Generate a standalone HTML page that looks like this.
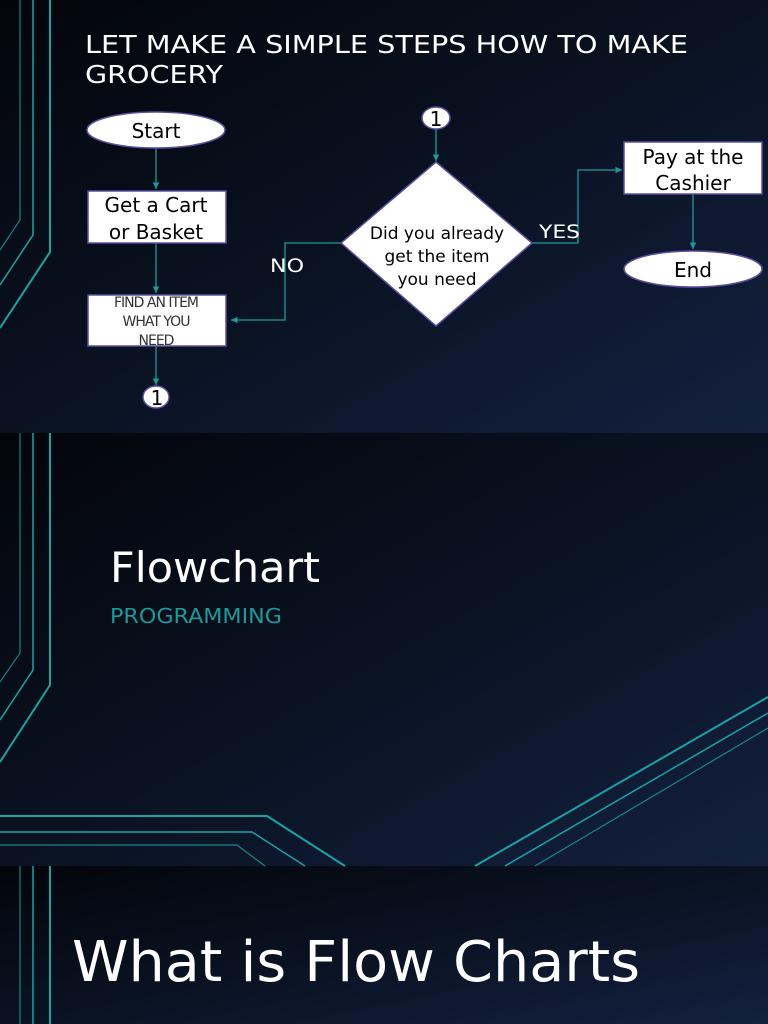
<!DOCTYPE html>
<html><head><meta charset="utf-8"><style>
html,body{margin:0;padding:0;background:#000;}
body{width:768px;height:1024px;overflow:hidden;position:relative;font-family:"DejaVu Sans","Liberation Sans",sans-serif;}
svg{position:absolute;left:0;top:0;}
</style></head><body>
<svg width="768" height="1024" viewBox="0 0 768 1024" xmlns="http://www.w3.org/2000/svg">
<defs>
<linearGradient id="bg" x1="0" y1="0" x2="1" y2="1">
<stop offset="0" stop-color="#03050a"/><stop offset="0.5" stop-color="#0a1222"/><stop offset="1" stop-color="#13203f"/>
</linearGradient>
<marker id="ah" markerWidth="6" markerHeight="6" refX="5" refY="3" orient="auto"><path d="M0,0.5 L5,3 L0,5.5z" fill="#1a9a9a"/></marker>
</defs>
<rect x="0" y="0" width="768" height="433" fill="url(#bg)"/>
<rect x="0" y="433" width="768" height="433" fill="url(#bg)"/>
<rect x="0" y="866" width="768" height="158" fill="url(#bg)"/>
<g stroke="#1aa3a3" stroke-width="2" fill="none">
<polyline points="20,0 20,220 0,250" stroke-width="1.2" opacity="0.8"/>
<polyline points="33,0 33,235 0,285" stroke-width="1.5"/>
<polyline points="50,0 50,252 0,328"/>
<polyline points="20,433 20,653 0,682" stroke-width="1.2" opacity="0.8"/>
<polyline points="33,433 33,670 0,720" stroke-width="1.5"/>
<polyline points="50,433 50,685 0,762"/>
<polyline points="0,816 267,816 345,866"/>
<polyline points="0,832 252,832 305,866" stroke-width="1.5"/>
<polyline points="0,845 237,845 265,866" stroke-width="1.2" opacity="0.8"/>
<line x1="768" y1="697" x2="475" y2="866"/>
<line x1="768" y1="713" x2="505" y2="866" stroke-width="1.5"/>
<line x1="768" y1="728" x2="535" y2="866" stroke-width="1.2" opacity="0.8"/>
<line x1="20" y1="866" x2="20" y2="1024" stroke-width="1.2" opacity="0.8"/>
<line x1="33" y1="866" x2="33" y2="1024" stroke-width="1.5"/>
<line x1="50" y1="866" x2="50" y2="1024"/>
</g>
<text x="85" y="53" fill="#fff" font-size="25" textLength="603" lengthAdjust="spacingAndGlyphs">LET MAKE A SIMPLE STEPS HOW TO MAKE</text>
<text x="85" y="83" fill="#fff" font-size="25" textLength="138" lengthAdjust="spacingAndGlyphs">GROCERY</text>
<g stroke="#1a9a9a" stroke-width="1.3" fill="none">
<line x1="156" y1="148" x2="156" y2="189" marker-end="url(#ah)"/>
<line x1="156" y1="243" x2="156" y2="293" marker-end="url(#ah)"/>
<line x1="156" y1="346" x2="156" y2="385" marker-end="url(#ah)"/>
<line x1="436" y1="129" x2="436" y2="161" marker-end="url(#ah)"/>
<polyline points="341,243 285,243 285,320 231,320" marker-end="url(#ah)"/>
<polyline points="532,243 578,243 578,170 622,170" marker-end="url(#ah)"/>
<line x1="693" y1="194" x2="693" y2="249" marker-end="url(#ah)"/>
</g>
<g fill="#fff" stroke="#5a4fa0" stroke-width="1.5">
<ellipse cx="156" cy="130" rx="69" ry="18"/>
<rect x="88" y="191" width="138" height="52"/>
<rect x="88" y="295" width="138" height="51"/>
<ellipse cx="156" cy="397" rx="13" ry="11"/>
<ellipse cx="436" cy="118" rx="14" ry="11"/>
<polygon points="436,162 532,243 436,326 341,243"/>
<rect x="624" y="142" width="138" height="52"/>
<ellipse cx="693" cy="269" rx="69" ry="18"/>
</g>
<g fill="#000" text-anchor="middle">
<text x="156" y="138" font-size="20">Start</text>
<text x="156" y="212" font-size="20">Get a Cart</text>
<text x="156" y="239" font-size="20">or Basket</text>
<text x="156" y="307" font-size="14" fill="#333" letter-spacing="-1">FIND AN ITEM</text>
<text x="156" y="326" font-size="14" fill="#333" letter-spacing="-1">WHAT YOU</text>
<text x="156" y="345" font-size="14" fill="#333" letter-spacing="-1">NEED</text>
<text x="157" y="405" font-size="20">1</text>
<text x="436" y="126" font-size="20">1</text>
<text x="437" y="239" font-size="17">Did you already</text>
<text x="437" y="262" font-size="17">get the item</text>
<text x="437" y="285" font-size="17">you need</text>
<text x="693" y="164" font-size="20">Pay at the</text>
<text x="693" y="190" font-size="20">Cashier</text>
<text x="693" y="277" font-size="20">End</text>
</g>
<text x="270" y="272" fill="#fff" font-size="19" textLength="34" lengthAdjust="spacingAndGlyphs">NO</text>
<text x="539" y="238" fill="#fff" font-size="19" textLength="41" lengthAdjust="spacingAndGlyphs">YES</text>
<text x="110" y="582" fill="#fff" font-size="42" textLength="210" lengthAdjust="spacingAndGlyphs">Flowchart</text>
<text x="110" y="623" fill="#1a9a9a" font-size="20" textLength="172" lengthAdjust="spacingAndGlyphs">PROGRAMMING</text>
<text x="72" y="981" fill="#fff" font-size="56" textLength="568" lengthAdjust="spacingAndGlyphs">What is Flow Charts</text>
</svg>
</body></html>
